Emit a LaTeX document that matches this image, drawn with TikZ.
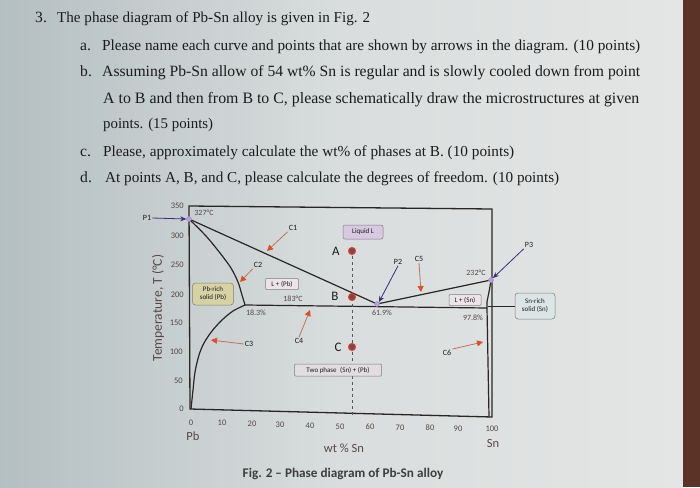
\documentclass[tikz,border=0pt]{standalone}
\usepackage{fontspec}
\setmainfont{Liberation Serif}
\newfontfamily\lbl{Carlito}
\usetikzlibrary{arrows.meta}
\newcommand{\fitw}[2]{\resizebox{#1pt}{!}{#2}}
\definecolor{bgL}{HTML}{B4BFC1}
\definecolor{bgM}{HTML}{D9DDDD}
\definecolor{bgR}{HTML}{E4E6E5}
\definecolor{strip}{HTML}{5B3427}
\definecolor{ink}{HTML}{1C1C1C}
\definecolor{curve}{HTML}{2A2624}
\definecolor{tick}{HTML}{574846}
\definecolor{navy}{HTML}{3A2E78}
\definecolor{carrow}{HTML}{D8502E}
\definecolor{cline}{HTML}{C2705E}
\definecolor{pdot}{HTML}{B9A0D8}
\definecolor{ptred}{HTML}{E23A36}
\definecolor{ptfill}{HTML}{7B4A48}
\definecolor{liqfill}{HTML}{D8C8E0}
\definecolor{lfill}{HTML}{ECE4E8}
\definecolor{pbfill}{HTML}{D6D2A6}
\definecolor{snfill}{HTML}{DCE5E5}
\definecolor{twofill}{HTML}{E2DDE0}
\begin{document}
\begin{tikzpicture}[x=1pt,y=-1pt,
  q/.style={anchor=base west, inner sep=0, font=\fontsize{15.6}{18}\selectfont, text=ink},
  lab/.style={font=\lbl\fontsize{8}{9}\selectfont, text=ink, inner sep=1pt},
  tk/.style={font=\lbl\fontsize{8.5}{9}\selectfont, text=tick, inner sep=0},
  crv/.style={curve, line width=1.2pt},
  parrow/.style={navy, line width=0.8pt, -{Stealth[length=6pt,width=5pt]}},
  carr/.style={cline, line width=0.8pt, -{Triangle[length=6pt,width=6pt,color=carrow]}},
  phbox/.style={draw, rounded corners=2pt, font=\lbl\fontsize{7}{8}\selectfont, inner sep=1.5pt, line width=0.5pt, text=ink, align=center},
  pdotstyle/.style={circle, fill=pdot, draw=pdot!80!navy, minimum size=5pt, inner sep=0},
  abc/.style={circle, draw=ptred, fill=ptfill, line width=1pt, minimum size=7pt, inner sep=0}]
\useasboundingbox (0,0) rectangle (700,487);
% background (photo)
\shade[left color=bgL, right color=bgR, middle color=bgM] (0,0) rectangle (683,487);
\fill[strip] (683,0) rectangle (700,487);

% question text
\node[q] (n3) at (35,23) {3.};
\node[q] (t0) at (57,23) {\fitw{313}{The phase diagram of Pb-Sn alloy is given in Fig. 2}};
\node[q] (la) at (80,50) {a.};
\node[q] (ta) at (102,50) {\fitw{538}{Please name each curve and points that are shown by arrows in the diagram. (10 points)}};
\node[q] (lb) at (80,76) {b.};
\node[q] (tb) at (102,76) {\fitw{538}{Assuming Pb-Sn allow of 54 wt\% Sn is regular and is slowly cooled down from point}};
\node[q] (tb2) at (103,103) {\fitw{536}{A to B and then from B to C, please schematically draw the microstructures at given}};
\node[q] (tb3) at (103,128) {\fitw{110}{points. (15 points)}};
\node[q] (lc) at (80,156) {c.};
\node[q] (tc) at (103,156) {\fitw{411}{Please, approximately calculate the wt\% of phases at B. (10 points)}};
\node[q] (ld) at (80,182) {d.};
\node[q] (td) at (105,182) {\fitw{454}{At points A, B, and C, please calculate the degrees of freedom. (10 points)}};

% frame
\draw[curve, line width=1.3pt] (189,206) -- (492,209) -- (492,417) -- (190,409) -- cycle;

% key coordinates
\coordinate (pPb) at (189,219);
\coordinate (pEu) at (377,304);
\coordinate (pSn) at (491,280);
\coordinate (pL) at (245,305);
\coordinate (pR) at (487,308);

% phase boundaries
\draw[crv] (pPb) -- (pEu);
\draw[crv] (pEu) -- (pSn);
\draw[crv] (pL) -- (pR);
\draw[crv] plot[smooth] coordinates {(189,219) (206,236) (220,253) (231,268) (238,282) (242,295) (245,305)};
\draw[crv] plot[smooth] coordinates {(245,305) (233,311) (222,320) (212,331) (204,343) (199,355) (195,372) (193,390) (191,409)};
\draw[crv] plot[smooth] coordinates {(491,280) (489,292) (487,302) (487,308)};
\draw[crv] (487,308) -- (489,417);

% dashed composition line
\draw[gray!70!black, dashed, line width=0.6pt] (352,256) -- (352,416);

% y ticks
\foreach \v/\yy/\xx in {350/206/184,300/236/184,250/265/184,200/295/184,150/323/183,100/352/183,50/381/183,0/409/184}
  \node[tk, anchor=east] at (\xx,\yy) {\v};
% x ticks
\foreach \v/\xx/\yy in {0/191/423,10/222/423,20/252/424,30/280/425,40/310/426,50/340/427,60/370/427,70/400/428,80/430/428,90/458/429,100/492/429}
  \node[tk] at (\xx,\yy) {\v};
\node[font=\lbl\fontsize{12.5}{13}\selectfont, text=tick] (pbl) at (193,436) {Pb};
\node[font=\lbl\fontsize{12.5}{13}\selectfont, text=tick] (snl) at (493,443) {Sn};
\node[font=\lbl\fontsize{12.5}{13}\selectfont, text=tick] (wtl) at (344,448) {wt \% Sn};
\node[rotate=90, font=\lbl\fontsize{13.5}{14}\selectfont, text=tick] (ylab) at (158,308) {Temperature, T (°C)};
\node[font=\lbl\bfseries\fontsize{13.2}{15}\selectfont, text=ink!85] (cap) at (343,474) {Fig. 2 – Phase diagram of Pb-Sn alloy};

% temperature / composition labels
\node[tk, font=\lbl\fontsize{8}{9}\selectfont] (t327) at (204,213) {327°C};
\node[tk, font=\lbl\fontsize{8}{9}\selectfont] (t232) at (476,273) {232°C};
\node[tk, font=\lbl\fontsize{8}{9}\selectfont] (t183) at (293,299) {183°C};
\node[tk, font=\lbl\fontsize{8}{9}\selectfont] (c183) at (256,313) {18.3\%};
\node[tk, font=\lbl\fontsize{8}{9}\selectfont] (c619) at (382,313) {61.9\%};
\node[tk, font=\lbl\fontsize{8}{9}\selectfont] (c978) at (473,318) {97.8\%};

% phase boxes
\node[phbox, fill=liqfill, draw=liqfill!60!black, minimum width=40pt, minimum height=14pt] (liq) at (363,232) {Liquid L};
\node[phbox, fill=lfill, draw=lfill!55!black, rounded corners=1pt, minimum width=33pt, minimum height=11pt] (lpb) at (282,284) {L + (Pb)};
\node[phbox, fill=lfill, draw=lfill!55!black, rounded corners=1pt, minimum width=32pt, minimum height=11pt] (lsn) at (465,300) {L + (Sn)};
\node[phbox, fill=pbfill, draw=pbfill!60!black, rounded corners=3pt, minimum width=41pt, minimum height=22pt] (pbs) at (213,294) {Pb-rich\\solid (Pb)};
\node[phbox, fill=snfill, draw=snfill!55!black, rounded corners=3pt, minimum width=40pt, minimum height=26pt] (sns) at (535,306) {Sn-rich\\solid (Sn)};
\node[phbox, fill=twofill, draw=twofill!55!black, rounded corners=1pt, minimum width=87pt, minimum height=12pt] (two) at (338,370) {Two phase\enspace(Sn) + (Pb)};
\draw[curve, line width=0.6pt] (sns.west) -- (488,306);

% points A, B, C
\node[abc] (A) at (352,251) {};
\node[abc] (B) at (352,297) {};
\node[abc] (C) at (352,347) {};
\node[font=\lbl\fontsize{13}{14}\selectfont, text=ink] (Al) at (336,251) {A};
\node[font=\lbl\fontsize{13}{14}\selectfont, text=ink] (Bl) at (335,296) {B};
\node[font=\lbl\fontsize{13}{14}\selectfont, text=ink] (Cl) at (338,347) {C};

% special points
\node[pdotstyle] (d1) at (pPb) {};
\node[pdotstyle] (d2) at (pEu) {};
\node[pdotstyle] (d3) at (pSn) {};

% P arrows
\node[lab] (P1) at (147,218) {P1};
\node[lab] (P2) at (398,262) {P2};
\node[lab] (P3) at (529,245) {P3};
\draw[parrow] (P1.east) -- (d1.west);
\draw[parrow] (P2.south) -- (d2.north east);
\draw[parrow] (P3.south west) -- (d3.north east);

% C arrows
\coordinate (c1t) at (267,251);
\coordinate (c2t) at (240,282);
\coordinate (c3t) at (211,340);
\coordinate (c4t) at (310,310);
\coordinate (c5t) at (421,292);
\coordinate (c6t) at (483,342);
\node[lab] (C1) at (293,228) {C1};
\node[lab] (C2) at (258,265) {C2};
\node[lab] (C3) at (249,344) {C3};
\node[lab] (C4) at (299,341) {C4};
\node[lab] (C5) at (419,259) {C5};
\node[lab] (C6) at (447,353) {C6};
\draw[carr] (C1.south west) -- (c1t);
\draw[carr] (C2.south west) -- (c2t);
\draw[carr] (C3.west) -- (c3t);
\draw[carr] (C4.north) -- (c4t);
\draw[carr] (C5.south) -- (c5t);
\draw[carr] (C6.north east) -- (c6t);
\end{tikzpicture}
\end{document}
